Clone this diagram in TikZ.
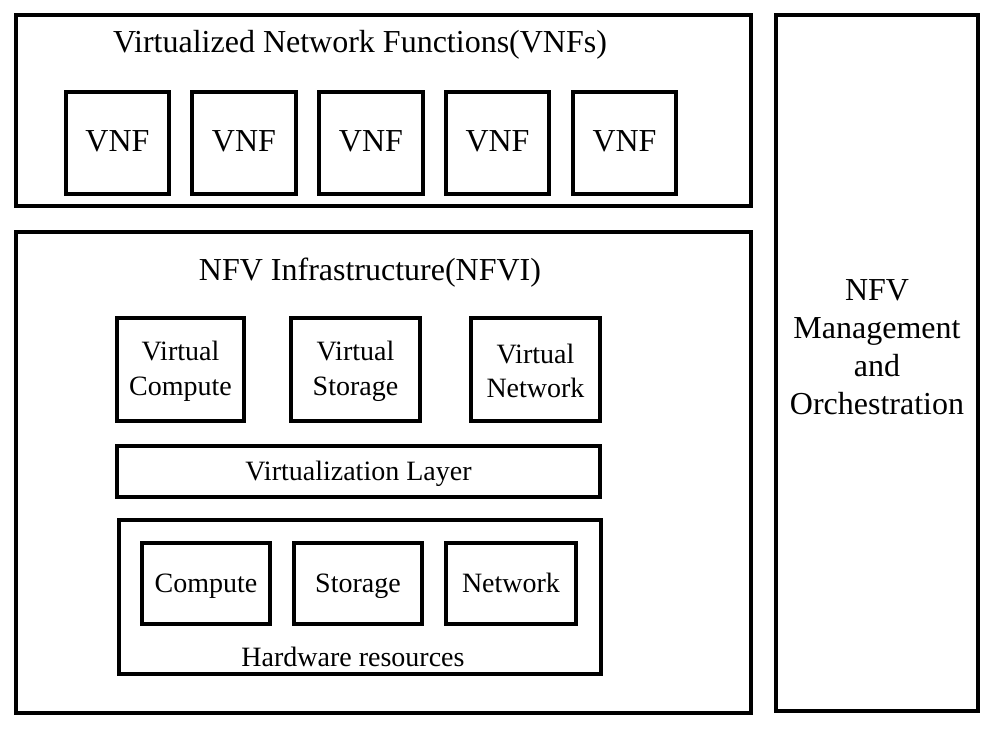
\documentclass[tikz,border=0pt]{standalone}
\usepackage{fontspec}
\setmainfont{Liberation Serif}
\begin{document}
\begin{tikzpicture}[x=0.75pt,y=-0.75pt,
  bx/.style={draw,line width=2.4pt},
  t/.style={font=\fontsize{24}{28.5}\selectfont,align=center,anchor=base,inner sep=0pt},
  s/.style={font=\fontsize{21}{26}\selectfont,align=center,anchor=base,inner sep=0pt},
  tm/.style={font=\fontsize{24}{28.5}\selectfont,align=center,inner sep=0pt},
  sm/.style={font=\fontsize{21}{26}\selectfont,align=center,inner sep=0pt}]
\useasboundingbox (0,0) rectangle (994,729);
\draw[bx] (16,15) rectangle (751,206);
\node[t] (vt) at (360,52) {Virtualized Network Functions(VNFs)};
\foreach \a/\b [count=\i] in {66/169,192/296,319/423,446/549,573/676}{
  \draw[bx] (\a,92) rectangle (\b,194);
  \node[t] (v\i) at ({(\a+\b)/2},151) {VNF};}
\draw[bx] (16,232) rectangle (751,713);
\node[t] (nt) at (370,280) {NFV Infrastructure(NFVI)};
\draw[bx] (117,318) rectangle (244,421); \node[sm] (vc) at (180.5,371) {Virtual\\Compute};
\draw[bx] (291,318) rectangle (420,421); \node[sm] (vs) at (355.5,371) {Virtual\\Storage};
\draw[bx] (471,318) rectangle (600,421); \node[sm] (vn) at (535.5,371) {Virtual\\Network};
\draw[bx] (117,446) rectangle (600,497); \node[s] (vl) at (358.5,480) {Virtualization Layer};
\draw[bx] (119,520) rectangle (601,674);
\draw[bx] (142,543) rectangle (270,624); \node[s] (hc) at (206,592) {Compute};
\draw[bx] (294,543) rectangle (422,624); \node[s] (hs) at (358,592) {Storage};
\draw[bx] (446,543) rectangle (576,624); \node[s] (hn) at (511,592) {Network};
\node[s] (hr) at (353,666) {Hardware resources};
\draw[bx] (776,15) rectangle (978,711);
\node[tm] (mo) at (877,347) {NFV\\Management\\and\\Orchestration};
\end{tikzpicture}
\end{document}
